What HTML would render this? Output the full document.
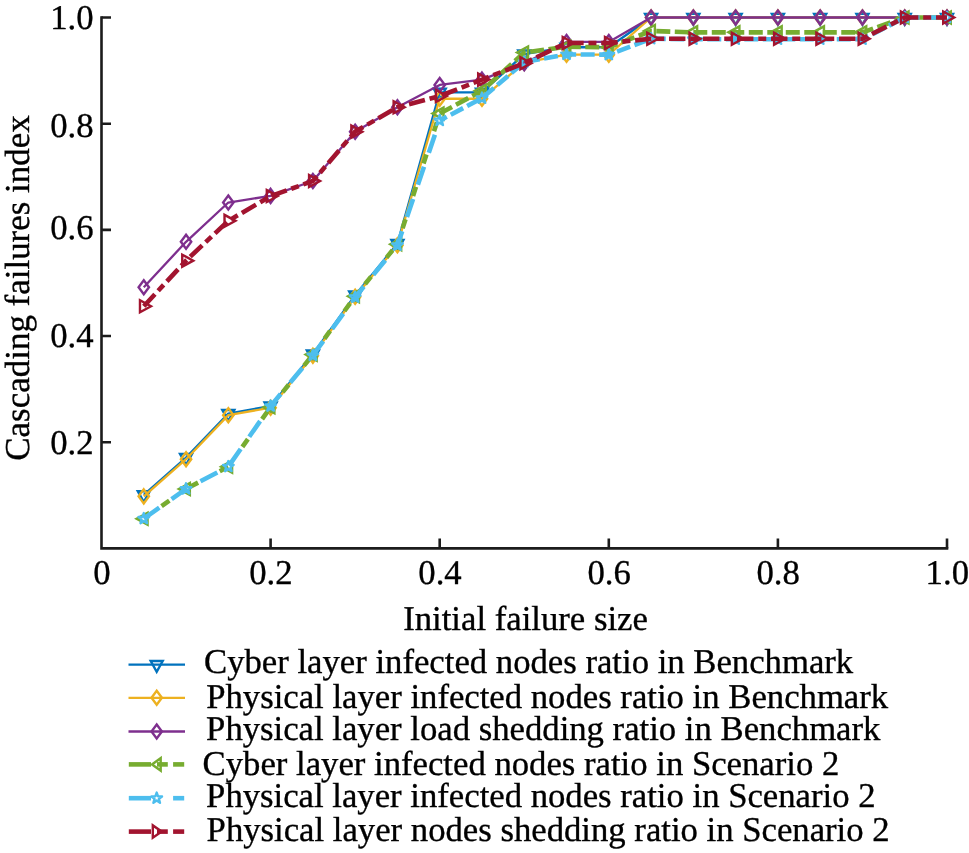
<!DOCTYPE html>
<html><head><meta charset="utf-8"><title>Cascading failures index</title>
<style>
html,body{margin:0;padding:0;background:#fff;}
body{width:969px;height:853px;overflow:hidden;}
svg{display:block;}
text{text-rendering:geometricPrecision;stroke:#000;stroke-width:0.35px;font-family:"Liberation Serif","Times New Roman",serif;font-size:34.7px;fill:#000;}
</style></head><body>
<svg width="969" height="853" viewBox="0 0 969 853">
<rect width="969" height="853" fill="#fff"/>
<polyline points="143.78,494.78 186.05,457.62 228.32,413.55 270.60,406.12 312.88,354.09 355.15,295.16 397.42,243.66 439.70,92.36 481.98,92.36 524.25,54.13 566.53,47.23 608.80,47.23 651.08,17.50 693.35,17.50 735.62,17.50 777.90,17.50 820.17,17.50 862.45,17.50 904.72,17.50 947.00,17.50" fill="none" stroke="#0072BD" stroke-width="2.3" stroke-linejoin="round"/>
<polygon points="137.78,491.18 149.78,491.18 143.78,501.98" fill="none" stroke="#0072BD" stroke-width="2.4" stroke-linejoin="miter"/>
<polygon points="180.05,454.02 192.05,454.02 186.05,464.82" fill="none" stroke="#0072BD" stroke-width="2.4" stroke-linejoin="miter"/>
<polygon points="222.32,409.95 234.32,409.95 228.32,420.75" fill="none" stroke="#0072BD" stroke-width="2.4" stroke-linejoin="miter"/>
<polygon points="264.60,402.52 276.60,402.52 270.60,413.32" fill="none" stroke="#0072BD" stroke-width="2.4" stroke-linejoin="miter"/>
<polygon points="306.88,350.49 318.88,350.49 312.88,361.29" fill="none" stroke="#0072BD" stroke-width="2.4" stroke-linejoin="miter"/>
<polygon points="349.15,291.56 361.15,291.56 355.15,302.36" fill="none" stroke="#0072BD" stroke-width="2.4" stroke-linejoin="miter"/>
<polygon points="391.42,240.06 403.42,240.06 397.42,250.86" fill="none" stroke="#0072BD" stroke-width="2.4" stroke-linejoin="miter"/>
<polygon points="433.70,88.76 445.70,88.76 439.70,99.56" fill="none" stroke="#0072BD" stroke-width="2.4" stroke-linejoin="miter"/>
<polygon points="475.98,88.76 487.98,88.76 481.98,99.56" fill="none" stroke="#0072BD" stroke-width="2.4" stroke-linejoin="miter"/>
<polygon points="518.25,50.53 530.25,50.53 524.25,61.33" fill="none" stroke="#0072BD" stroke-width="2.4" stroke-linejoin="miter"/>
<polygon points="560.53,43.63 572.53,43.63 566.53,54.43" fill="none" stroke="#0072BD" stroke-width="2.4" stroke-linejoin="miter"/>
<polygon points="602.80,43.63 614.80,43.63 608.80,54.43" fill="none" stroke="#0072BD" stroke-width="2.4" stroke-linejoin="miter"/>
<polygon points="645.08,13.90 657.08,13.90 651.08,24.70" fill="none" stroke="#0072BD" stroke-width="2.4" stroke-linejoin="miter"/>
<polygon points="687.35,13.90 699.35,13.90 693.35,24.70" fill="none" stroke="#0072BD" stroke-width="2.4" stroke-linejoin="miter"/>
<polygon points="729.62,13.90 741.62,13.90 735.62,24.70" fill="none" stroke="#0072BD" stroke-width="2.4" stroke-linejoin="miter"/>
<polygon points="771.90,13.90 783.90,13.90 777.90,24.70" fill="none" stroke="#0072BD" stroke-width="2.4" stroke-linejoin="miter"/>
<polygon points="814.17,13.90 826.17,13.90 820.17,24.70" fill="none" stroke="#0072BD" stroke-width="2.4" stroke-linejoin="miter"/>
<polygon points="856.45,13.90 868.45,13.90 862.45,24.70" fill="none" stroke="#0072BD" stroke-width="2.4" stroke-linejoin="miter"/>
<polygon points="898.72,13.90 910.72,13.90 904.72,24.70" fill="none" stroke="#0072BD" stroke-width="2.4" stroke-linejoin="miter"/>
<polygon points="941.00,13.90 953.00,13.90 947.00,24.70" fill="none" stroke="#0072BD" stroke-width="2.4" stroke-linejoin="miter"/>
<polyline points="143.78,496.37 186.05,459.21 228.32,415.14 270.60,407.71 312.88,355.68 355.15,296.75 397.42,245.26 439.70,98.73 481.98,98.73 524.25,62.63 566.53,54.66 608.80,54.66 651.08,17.50 693.35,17.50 735.62,17.50 777.90,17.50 820.17,17.50 862.45,17.50 904.72,17.50 947.00,17.50" fill="none" stroke="#EDB120" stroke-width="2.3" stroke-linejoin="round"/>
<polygon points="143.78,489.37 148.97,496.37 143.78,503.37 138.58,496.37" fill="none" stroke="#EDB120" stroke-width="2.4" stroke-linejoin="miter"/>
<polygon points="186.05,452.21 191.25,459.21 186.05,466.21 180.85,459.21" fill="none" stroke="#EDB120" stroke-width="2.4" stroke-linejoin="miter"/>
<polygon points="228.32,408.14 233.52,415.14 228.32,422.14 223.12,415.14" fill="none" stroke="#EDB120" stroke-width="2.4" stroke-linejoin="miter"/>
<polygon points="270.60,400.71 275.80,407.71 270.60,414.71 265.40,407.71" fill="none" stroke="#EDB120" stroke-width="2.4" stroke-linejoin="miter"/>
<polygon points="312.88,348.68 318.07,355.68 312.88,362.68 307.68,355.68" fill="none" stroke="#EDB120" stroke-width="2.4" stroke-linejoin="miter"/>
<polygon points="355.15,289.75 360.35,296.75 355.15,303.75 349.95,296.75" fill="none" stroke="#EDB120" stroke-width="2.4" stroke-linejoin="miter"/>
<polygon points="397.42,238.26 402.62,245.26 397.42,252.26 392.22,245.26" fill="none" stroke="#EDB120" stroke-width="2.4" stroke-linejoin="miter"/>
<polygon points="439.70,91.73 444.90,98.73 439.70,105.73 434.50,98.73" fill="none" stroke="#EDB120" stroke-width="2.4" stroke-linejoin="miter"/>
<polygon points="481.98,91.73 487.18,98.73 481.98,105.73 476.78,98.73" fill="none" stroke="#EDB120" stroke-width="2.4" stroke-linejoin="miter"/>
<polygon points="524.25,55.63 529.45,62.63 524.25,69.63 519.05,62.63" fill="none" stroke="#EDB120" stroke-width="2.4" stroke-linejoin="miter"/>
<polygon points="566.53,47.66 571.73,54.66 566.53,61.66 561.33,54.66" fill="none" stroke="#EDB120" stroke-width="2.4" stroke-linejoin="miter"/>
<polygon points="608.80,47.66 614.00,54.66 608.80,61.66 603.60,54.66" fill="none" stroke="#EDB120" stroke-width="2.4" stroke-linejoin="miter"/>
<polygon points="651.08,10.50 656.28,17.50 651.08,24.50 645.88,17.50" fill="none" stroke="#EDB120" stroke-width="2.4" stroke-linejoin="miter"/>
<polygon points="693.35,10.50 698.55,17.50 693.35,24.50 688.15,17.50" fill="none" stroke="#EDB120" stroke-width="2.4" stroke-linejoin="miter"/>
<polygon points="735.62,10.50 740.83,17.50 735.62,24.50 730.42,17.50" fill="none" stroke="#EDB120" stroke-width="2.4" stroke-linejoin="miter"/>
<polygon points="777.90,10.50 783.10,17.50 777.90,24.50 772.70,17.50" fill="none" stroke="#EDB120" stroke-width="2.4" stroke-linejoin="miter"/>
<polygon points="820.17,10.50 825.38,17.50 820.17,24.50 814.97,17.50" fill="none" stroke="#EDB120" stroke-width="2.4" stroke-linejoin="miter"/>
<polygon points="862.45,10.50 867.65,17.50 862.45,24.50 857.25,17.50" fill="none" stroke="#EDB120" stroke-width="2.4" stroke-linejoin="miter"/>
<polygon points="904.72,10.50 909.92,17.50 904.72,24.50 899.52,17.50" fill="none" stroke="#EDB120" stroke-width="2.4" stroke-linejoin="miter"/>
<polygon points="947.00,10.50 952.20,17.50 947.00,24.50 941.80,17.50" fill="none" stroke="#EDB120" stroke-width="2.4" stroke-linejoin="miter"/>
<polyline points="143.78,287.20 186.05,241.81 228.32,202.52 270.60,195.88 312.88,181.02 355.15,131.64 397.42,107.22 439.70,84.92 481.98,79.62 524.25,63.16 566.53,41.92 608.80,41.92 651.08,17.50 693.35,17.50 735.62,17.50 777.90,17.50 820.17,17.50 862.45,17.50 904.72,17.50 947.00,17.50" fill="none" stroke="#7E2F8E" stroke-width="2.3" stroke-linejoin="round"/>
<polygon points="143.78,280.20 148.97,287.20 143.78,294.20 138.58,287.20" fill="none" stroke="#7E2F8E" stroke-width="2.4" stroke-linejoin="miter"/>
<polygon points="186.05,234.81 191.25,241.81 186.05,248.81 180.85,241.81" fill="none" stroke="#7E2F8E" stroke-width="2.4" stroke-linejoin="miter"/>
<polygon points="228.32,195.52 233.52,202.52 228.32,209.52 223.12,202.52" fill="none" stroke="#7E2F8E" stroke-width="2.4" stroke-linejoin="miter"/>
<polygon points="270.60,188.88 275.80,195.88 270.60,202.88 265.40,195.88" fill="none" stroke="#7E2F8E" stroke-width="2.4" stroke-linejoin="miter"/>
<polygon points="312.88,174.02 318.07,181.02 312.88,188.02 307.68,181.02" fill="none" stroke="#7E2F8E" stroke-width="2.4" stroke-linejoin="miter"/>
<polygon points="355.15,124.64 360.35,131.64 355.15,138.64 349.95,131.64" fill="none" stroke="#7E2F8E" stroke-width="2.4" stroke-linejoin="miter"/>
<polygon points="397.42,100.22 402.62,107.22 397.42,114.22 392.22,107.22" fill="none" stroke="#7E2F8E" stroke-width="2.4" stroke-linejoin="miter"/>
<polygon points="439.70,77.92 444.90,84.92 439.70,91.92 434.50,84.92" fill="none" stroke="#7E2F8E" stroke-width="2.4" stroke-linejoin="miter"/>
<polygon points="481.98,72.62 487.18,79.62 481.98,86.62 476.78,79.62" fill="none" stroke="#7E2F8E" stroke-width="2.4" stroke-linejoin="miter"/>
<polygon points="524.25,56.16 529.45,63.16 524.25,70.16 519.05,63.16" fill="none" stroke="#7E2F8E" stroke-width="2.4" stroke-linejoin="miter"/>
<polygon points="566.53,34.92 571.73,41.92 566.53,48.92 561.33,41.92" fill="none" stroke="#7E2F8E" stroke-width="2.4" stroke-linejoin="miter"/>
<polygon points="608.80,34.92 614.00,41.92 608.80,48.92 603.60,41.92" fill="none" stroke="#7E2F8E" stroke-width="2.4" stroke-linejoin="miter"/>
<polygon points="651.08,10.50 656.28,17.50 651.08,24.50 645.88,17.50" fill="none" stroke="#7E2F8E" stroke-width="2.4" stroke-linejoin="miter"/>
<polygon points="693.35,10.50 698.55,17.50 693.35,24.50 688.15,17.50" fill="none" stroke="#7E2F8E" stroke-width="2.4" stroke-linejoin="miter"/>
<polygon points="735.62,10.50 740.83,17.50 735.62,24.50 730.42,17.50" fill="none" stroke="#7E2F8E" stroke-width="2.4" stroke-linejoin="miter"/>
<polygon points="777.90,10.50 783.10,17.50 777.90,24.50 772.70,17.50" fill="none" stroke="#7E2F8E" stroke-width="2.4" stroke-linejoin="miter"/>
<polygon points="820.17,10.50 825.38,17.50 820.17,24.50 814.97,17.50" fill="none" stroke="#7E2F8E" stroke-width="2.4" stroke-linejoin="miter"/>
<polygon points="862.45,10.50 867.65,17.50 862.45,24.50 857.25,17.50" fill="none" stroke="#7E2F8E" stroke-width="2.4" stroke-linejoin="miter"/>
<polygon points="904.72,10.50 909.92,17.50 904.72,24.50 899.52,17.50" fill="none" stroke="#7E2F8E" stroke-width="2.4" stroke-linejoin="miter"/>
<polygon points="947.00,10.50 952.20,17.50 947.00,24.50 941.80,17.50" fill="none" stroke="#7E2F8E" stroke-width="2.4" stroke-linejoin="miter"/>
<polyline points="143.78,518.67 186.05,488.94 228.32,466.64 270.60,407.18 312.88,354.62 355.15,296.22 397.42,244.19 439.70,113.59" fill="none" stroke="#77AC30" stroke-width="4.6" stroke-dasharray="9.5 24.5" stroke-dashoffset="12.25"/>
<polyline points="439.70,113.59 481.98,90.76 524.25,52.54 566.53,46.70 608.80,47.23 651.08,30.98 693.35,32.37 735.62,32.37 777.90,32.37 820.17,32.37 862.45,32.37 904.72,17.50 947.00,17.50" fill="none" stroke="#77AC30" stroke-width="4.6" stroke-dasharray="14 4.5" stroke-dashoffset="0"/>
<polygon points="147.58,512.67 147.58,524.67 136.58,518.67" fill="none" stroke="#77AC30" stroke-width="2.4" stroke-linejoin="miter"/>
<polygon points="189.85,482.94 189.85,494.94 178.85,488.94" fill="none" stroke="#77AC30" stroke-width="2.4" stroke-linejoin="miter"/>
<polygon points="232.12,460.64 232.12,472.64 221.12,466.64" fill="none" stroke="#77AC30" stroke-width="2.4" stroke-linejoin="miter"/>
<polygon points="274.40,401.18 274.40,413.18 263.40,407.18" fill="none" stroke="#77AC30" stroke-width="2.4" stroke-linejoin="miter"/>
<polygon points="316.68,348.62 316.68,360.62 305.68,354.62" fill="none" stroke="#77AC30" stroke-width="2.4" stroke-linejoin="miter"/>
<polygon points="358.95,290.22 358.95,302.22 347.95,296.22" fill="none" stroke="#77AC30" stroke-width="2.4" stroke-linejoin="miter"/>
<polygon points="401.22,238.19 401.22,250.19 390.22,244.19" fill="none" stroke="#77AC30" stroke-width="2.4" stroke-linejoin="miter"/>
<polygon points="443.50,107.59 443.50,119.59 432.50,113.59" fill="none" stroke="#77AC30" stroke-width="2.4" stroke-linejoin="miter"/>
<polygon points="485.78,84.76 485.78,96.76 474.78,90.76" fill="none" stroke="#77AC30" stroke-width="2.4" stroke-linejoin="miter"/>
<polygon points="528.05,46.54 528.05,58.54 517.05,52.54" fill="none" stroke="#77AC30" stroke-width="2.4" stroke-linejoin="miter"/>
<polygon points="570.33,40.70 570.33,52.70 559.33,46.70" fill="none" stroke="#77AC30" stroke-width="2.4" stroke-linejoin="miter"/>
<polygon points="612.60,41.23 612.60,53.23 601.60,47.23" fill="none" stroke="#77AC30" stroke-width="2.4" stroke-linejoin="miter"/>
<polygon points="654.88,24.98 654.88,36.98 643.88,30.98" fill="none" stroke="#77AC30" stroke-width="2.4" stroke-linejoin="miter"/>
<polygon points="697.15,26.37 697.15,38.37 686.15,32.37" fill="none" stroke="#77AC30" stroke-width="2.4" stroke-linejoin="miter"/>
<polygon points="739.42,26.37 739.42,38.37 728.42,32.37" fill="none" stroke="#77AC30" stroke-width="2.4" stroke-linejoin="miter"/>
<polygon points="781.70,26.37 781.70,38.37 770.70,32.37" fill="none" stroke="#77AC30" stroke-width="2.4" stroke-linejoin="miter"/>
<polygon points="823.97,26.37 823.97,38.37 812.97,32.37" fill="none" stroke="#77AC30" stroke-width="2.4" stroke-linejoin="miter"/>
<polygon points="866.25,26.37 866.25,38.37 855.25,32.37" fill="none" stroke="#77AC30" stroke-width="2.4" stroke-linejoin="miter"/>
<polygon points="908.52,11.50 908.52,23.50 897.52,17.50" fill="none" stroke="#77AC30" stroke-width="2.4" stroke-linejoin="miter"/>
<polygon points="950.80,11.50 950.80,23.50 939.80,17.50" fill="none" stroke="#77AC30" stroke-width="2.4" stroke-linejoin="miter"/>
<polyline points="143.78,518.67 186.05,488.94 228.32,466.64 270.60,406.12 312.88,355.42 355.15,297.28 397.42,245.26 439.70,120.49" fill="none" stroke="#4DBEEE" stroke-width="4.6" stroke-dasharray="19 15" stroke-dashoffset="0"/>
<polyline points="439.70,120.49 481.98,98.20 524.25,62.10 566.53,54.40 608.80,54.66 651.08,38.74 693.35,39.27 735.62,39.27 777.90,39.27 820.17,39.27 862.45,39.27 904.72,17.50 947.00,17.50" fill="none" stroke="#4DBEEE" stroke-width="4.6" stroke-dasharray="14 4.5" stroke-dashoffset="6"/>
<polygon points="143.78,513.07 145.13,516.81 149.10,516.94 145.96,519.38 147.07,523.20 143.78,520.97 140.48,523.20 141.59,519.38 138.45,516.94 142.42,516.81" fill="none" stroke="#4DBEEE" stroke-width="2.4" stroke-linejoin="round"/>
<polygon points="186.05,483.34 187.40,487.08 191.38,487.21 188.24,489.65 189.34,493.47 186.05,491.24 182.76,493.47 183.86,489.65 180.72,487.21 184.70,487.08" fill="none" stroke="#4DBEEE" stroke-width="2.4" stroke-linejoin="round"/>
<polygon points="228.32,461.04 229.68,464.78 233.65,464.91 230.51,467.35 231.62,471.17 228.32,468.94 225.03,471.17 226.14,467.35 223.00,464.91 226.97,464.78" fill="none" stroke="#4DBEEE" stroke-width="2.4" stroke-linejoin="round"/>
<polygon points="270.60,400.52 271.95,404.26 275.93,404.39 272.79,406.83 273.89,410.65 270.60,408.42 267.31,410.65 268.41,406.83 265.27,404.39 269.25,404.26" fill="none" stroke="#4DBEEE" stroke-width="2.4" stroke-linejoin="round"/>
<polygon points="312.88,349.82 314.23,353.56 318.20,353.69 315.06,356.13 316.17,359.95 312.88,357.72 309.58,359.95 310.69,356.13 307.55,353.69 311.52,353.56" fill="none" stroke="#4DBEEE" stroke-width="2.4" stroke-linejoin="round"/>
<polygon points="355.15,291.68 356.50,295.42 360.48,295.55 357.34,298.00 358.44,301.81 355.15,299.58 351.86,301.81 352.96,298.00 349.82,295.55 353.80,295.42" fill="none" stroke="#4DBEEE" stroke-width="2.4" stroke-linejoin="round"/>
<polygon points="397.42,239.66 398.78,243.40 402.75,243.53 399.61,245.97 400.72,249.79 397.42,247.56 394.13,249.79 395.24,245.97 392.10,243.53 396.07,243.40" fill="none" stroke="#4DBEEE" stroke-width="2.4" stroke-linejoin="round"/>
<polygon points="439.70,114.89 441.05,118.63 445.03,118.76 441.89,121.21 442.99,125.03 439.70,122.79 436.41,125.03 437.51,121.21 434.37,118.76 438.35,118.63" fill="none" stroke="#4DBEEE" stroke-width="2.4" stroke-linejoin="round"/>
<polygon points="481.98,92.60 483.33,96.34 487.30,96.47 484.16,98.91 485.27,102.73 481.98,100.50 478.68,102.73 479.79,98.91 476.65,96.47 480.62,96.34" fill="none" stroke="#4DBEEE" stroke-width="2.4" stroke-linejoin="round"/>
<polygon points="524.25,56.50 525.60,60.23 529.58,60.37 526.44,62.81 527.54,66.63 524.25,64.40 520.96,66.63 522.06,62.81 518.92,60.37 522.90,60.23" fill="none" stroke="#4DBEEE" stroke-width="2.4" stroke-linejoin="round"/>
<polygon points="566.53,48.80 567.88,52.54 571.85,52.67 568.71,55.11 569.82,58.93 566.53,56.70 563.23,58.93 564.34,55.11 561.20,52.67 565.17,52.54" fill="none" stroke="#4DBEEE" stroke-width="2.4" stroke-linejoin="round"/>
<polygon points="608.80,49.06 610.15,52.80 614.13,52.93 610.99,55.37 612.09,59.19 608.80,56.96 605.51,59.19 606.61,55.37 603.47,52.93 607.45,52.80" fill="none" stroke="#4DBEEE" stroke-width="2.4" stroke-linejoin="round"/>
<polygon points="651.08,33.14 652.43,36.88 656.40,37.01 653.26,39.45 654.37,43.27 651.08,41.04 647.78,43.27 648.89,39.45 645.75,37.01 649.72,36.88" fill="none" stroke="#4DBEEE" stroke-width="2.4" stroke-linejoin="round"/>
<polygon points="693.35,33.67 694.70,37.41 698.68,37.54 695.54,39.98 696.64,43.80 693.35,41.57 690.06,43.80 691.16,39.98 688.02,37.54 692.00,37.41" fill="none" stroke="#4DBEEE" stroke-width="2.4" stroke-linejoin="round"/>
<polygon points="735.62,33.67 736.98,37.41 740.95,37.54 737.81,39.98 738.92,43.80 735.62,41.57 732.33,43.80 733.44,39.98 730.30,37.54 734.27,37.41" fill="none" stroke="#4DBEEE" stroke-width="2.4" stroke-linejoin="round"/>
<polygon points="777.90,33.67 779.25,37.41 783.23,37.54 780.09,39.98 781.19,43.80 777.90,41.57 774.61,43.80 775.71,39.98 772.57,37.54 776.55,37.41" fill="none" stroke="#4DBEEE" stroke-width="2.4" stroke-linejoin="round"/>
<polygon points="820.17,33.67 821.53,37.41 825.50,37.54 822.36,39.98 823.47,43.80 820.17,41.57 816.88,43.80 817.99,39.98 814.85,37.54 818.82,37.41" fill="none" stroke="#4DBEEE" stroke-width="2.4" stroke-linejoin="round"/>
<polygon points="862.45,33.67 863.80,37.41 867.78,37.54 864.64,39.98 865.74,43.80 862.45,41.57 859.16,43.80 860.26,39.98 857.12,37.54 861.10,37.41" fill="none" stroke="#4DBEEE" stroke-width="2.4" stroke-linejoin="round"/>
<polygon points="904.72,11.90 906.08,15.64 910.05,15.77 906.91,18.21 908.02,22.03 904.72,19.80 901.43,22.03 902.54,18.21 899.40,15.77 903.37,15.64" fill="none" stroke="#4DBEEE" stroke-width="2.4" stroke-linejoin="round"/>
<polygon points="947.00,11.90 948.35,15.64 952.33,15.77 949.19,18.21 950.29,22.03 947.00,19.80 943.71,22.03 944.81,18.21 941.67,15.77 945.65,15.64" fill="none" stroke="#4DBEEE" stroke-width="2.4" stroke-linejoin="round"/>
<polyline points="143.78,306.31 186.05,260.65 228.32,220.83 270.60,196.09 312.88,181.02 355.15,131.64 397.42,107.22 439.70,96.07 481.98,79.62 524.25,63.16 566.53,42.98 608.80,42.98 651.08,38.74 693.35,38.74 735.62,38.74 777.90,38.74 820.17,38.74 862.45,38.74 904.72,17.50 947.00,17.50" fill="none" stroke="#A2142F" stroke-width="4.6" stroke-dasharray="16.4 4.8 8 4.8" stroke-dashoffset="0"/>
<polygon points="139.97,300.31 139.97,312.31 150.97,306.31" fill="none" stroke="#A2142F" stroke-width="2.4" stroke-linejoin="miter"/>
<polygon points="182.25,254.65 182.25,266.65 193.25,260.65" fill="none" stroke="#A2142F" stroke-width="2.4" stroke-linejoin="miter"/>
<polygon points="224.52,214.83 224.52,226.83 235.52,220.83" fill="none" stroke="#A2142F" stroke-width="2.4" stroke-linejoin="miter"/>
<polygon points="266.80,190.09 266.80,202.09 277.80,196.09" fill="none" stroke="#A2142F" stroke-width="2.4" stroke-linejoin="miter"/>
<polygon points="309.07,175.02 309.07,187.02 320.07,181.02" fill="none" stroke="#A2142F" stroke-width="2.4" stroke-linejoin="miter"/>
<polygon points="351.35,125.64 351.35,137.64 362.35,131.64" fill="none" stroke="#A2142F" stroke-width="2.4" stroke-linejoin="miter"/>
<polygon points="393.62,101.22 393.62,113.22 404.62,107.22" fill="none" stroke="#A2142F" stroke-width="2.4" stroke-linejoin="miter"/>
<polygon points="435.90,90.07 435.90,102.07 446.90,96.07" fill="none" stroke="#A2142F" stroke-width="2.4" stroke-linejoin="miter"/>
<polygon points="478.18,73.62 478.18,85.62 489.18,79.62" fill="none" stroke="#A2142F" stroke-width="2.4" stroke-linejoin="miter"/>
<polygon points="520.45,57.16 520.45,69.16 531.45,63.16" fill="none" stroke="#A2142F" stroke-width="2.4" stroke-linejoin="miter"/>
<polygon points="562.73,36.98 562.73,48.98 573.73,42.98" fill="none" stroke="#A2142F" stroke-width="2.4" stroke-linejoin="miter"/>
<polygon points="605.00,36.98 605.00,48.98 616.00,42.98" fill="none" stroke="#A2142F" stroke-width="2.4" stroke-linejoin="miter"/>
<polygon points="647.28,32.74 647.28,44.74 658.28,38.74" fill="none" stroke="#A2142F" stroke-width="2.4" stroke-linejoin="miter"/>
<polygon points="689.55,32.74 689.55,44.74 700.55,38.74" fill="none" stroke="#A2142F" stroke-width="2.4" stroke-linejoin="miter"/>
<polygon points="731.83,32.74 731.83,44.74 742.83,38.74" fill="none" stroke="#A2142F" stroke-width="2.4" stroke-linejoin="miter"/>
<polygon points="774.10,32.74 774.10,44.74 785.10,38.74" fill="none" stroke="#A2142F" stroke-width="2.4" stroke-linejoin="miter"/>
<polygon points="816.38,32.74 816.38,44.74 827.38,38.74" fill="none" stroke="#A2142F" stroke-width="2.4" stroke-linejoin="miter"/>
<polygon points="858.65,32.74 858.65,44.74 869.65,38.74" fill="none" stroke="#A2142F" stroke-width="2.4" stroke-linejoin="miter"/>
<polygon points="900.92,11.50 900.92,23.50 911.92,17.50" fill="none" stroke="#A2142F" stroke-width="2.4" stroke-linejoin="miter"/>
<polygon points="943.20,11.50 943.20,23.50 954.20,17.50" fill="none" stroke="#A2142F" stroke-width="2.4" stroke-linejoin="miter"/>
<path d="M101.5,17.5 L101.5,548.4 L947.0,548.4" fill="none" stroke="#1c1c1c" stroke-width="2.6" stroke-linecap="square"/>
<path d="M101.5,442.22 h9.5 M270.60,548.4 v-10 M101.5,336.04 h9.5 M439.70,548.4 v-10 M101.5,229.86 h9.5 M608.80,548.4 v-10 M101.5,123.68 h9.5 M777.90,548.4 v-10 M101.5,17.50 h9.5 M947.00,548.4 v-10" stroke="#1c1c1c" stroke-width="2.6"/>
<text x="93.5" y="28.6" text-anchor="end">1.0</text>
<text x="93.5" y="136.6" text-anchor="end">0.8</text>
<text x="93.5" y="238.6" text-anchor="end">0.6</text>
<text x="93.5" y="346.8" text-anchor="end">0.4</text>
<text x="93.5" y="453.8" text-anchor="end">0.2</text>
<text x="101.8" y="584" text-anchor="middle">0</text>
<text x="270.9" y="584" text-anchor="middle">0.2</text>
<text x="440.0" y="584" text-anchor="middle">0.4</text>
<text x="609.1" y="584" text-anchor="middle">0.6</text>
<text x="778.2" y="584" text-anchor="middle">0.8</text>
<text x="947.3" y="584" text-anchor="middle">1.0</text>
<text x="525.5" y="630" text-anchor="middle">Initial failure size</text>
<text transform="translate(28.8,288) rotate(-90)" x="0" y="0" text-anchor="middle" style="font-size:34.95px">Cascading failures index</text>
<line x1="128.5" y1="664.6" x2="185" y2="664.6" stroke="#0072BD" stroke-width="2.3"/>
<polygon points="150.70,661.00 162.70,661.00 156.70,671.80" fill="none" stroke="#0072BD" stroke-width="2.4" stroke-linejoin="miter"/>
<text x="204.0" y="673.1">Cyber layer infected nodes ratio in Benchmark</text>
<line x1="128.5" y1="697.8" x2="185" y2="697.8" stroke="#EDB120" stroke-width="2.3"/>
<polygon points="156.70,690.80 161.90,697.80 156.70,704.80 151.50,697.80" fill="none" stroke="#EDB120" stroke-width="2.4" stroke-linejoin="miter"/>
<text x="206.2" y="707.7">Physical layer infected nodes ratio in Benchmark</text>
<line x1="128.5" y1="731.5" x2="185" y2="731.5" stroke="#7E2F8E" stroke-width="2.3"/>
<polygon points="156.70,724.50 161.90,731.50 156.70,738.50 151.50,731.50" fill="none" stroke="#7E2F8E" stroke-width="2.4" stroke-linejoin="miter"/>
<text x="206.1" y="740.1">Physical layer load shedding ratio in Benchmark</text>
<line x1="128.8" y1="764.4" x2="151" y2="764.4" stroke="#77AC30" stroke-width="4.6"/>
<line x1="157" y1="764.4" x2="167.8" y2="764.4" stroke="#77AC30" stroke-width="4.6"/>
<line x1="173.1" y1="764.4" x2="184.2" y2="764.4" stroke="#77AC30" stroke-width="4.6"/>
<polygon points="160.70,758.20 160.70,770.60 152.00,764.40" fill="none" stroke="#77AC30" stroke-width="2.4" stroke-linejoin="miter"/>
<text x="202.6" y="774.9">Cyber layer infected nodes ratio in Scenario 2</text>
<line x1="128.8" y1="798.2" x2="151" y2="798.2" stroke="#4DBEEE" stroke-width="4.6"/>
<line x1="173.1" y1="798.2" x2="184.2" y2="798.2" stroke="#4DBEEE" stroke-width="4.6"/>
<polygon points="156.70,792.60 158.05,796.34 162.03,796.47 158.89,798.91 159.99,802.73 156.70,800.50 153.41,802.73 154.51,798.91 151.37,796.47 155.35,796.34" fill="none" stroke="#4DBEEE" stroke-width="2.4" stroke-linejoin="round"/>
<text x="206.1" y="806.5">Physical layer infected nodes ratio in Scenario 2</text>
<line x1="128.8" y1="831.6" x2="151" y2="831.6" stroke="#A2142F" stroke-width="4.6"/>
<line x1="157" y1="831.6" x2="167.8" y2="831.6" stroke="#A2142F" stroke-width="4.6"/>
<line x1="173.1" y1="831.6" x2="184.2" y2="831.6" stroke="#A2142F" stroke-width="4.6"/>
<polygon points="152.80,825.40 152.80,837.80 161.70,831.60" fill="none" stroke="#A2142F" stroke-width="2.4" stroke-linejoin="miter"/>
<text x="206.6" y="841.3">Physical layer nodes shedding ratio in Scenario 2</text>
</svg></body></html>
